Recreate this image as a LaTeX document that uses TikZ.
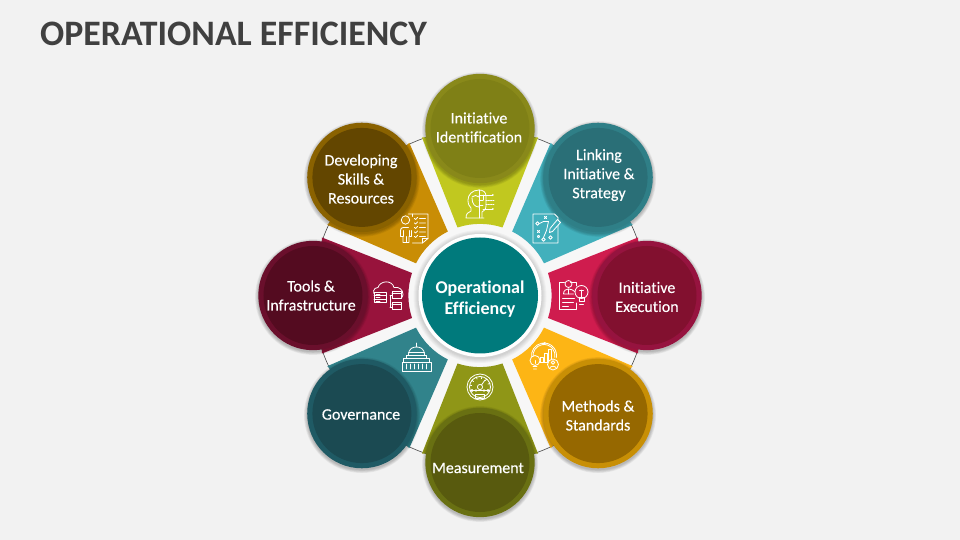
\documentclass[tikz,border=0pt]{standalone}
\usepackage{fontspec}
\setmainfont[Ligatures=NoCommon]{Carlito}
\usetikzlibrary{arrows.meta}
\definecolor{bg}{HTML}{F2F2F2}
\definecolor{pA}{HTML}{C1C81F}\definecolor{oA}{HTML}{89891A}\definecolor{iA}{HTML}{7F8016}
\definecolor{pB}{HTML}{42B0BC}\definecolor{oB}{HTML}{2F7F87}\definecolor{iB}{HTML}{2A6F77}
\definecolor{pC}{HTML}{CF1C4E}\definecolor{oC}{HTML}{96133F}\definecolor{iC}{HTML}{82102F}
\definecolor{pD}{HTML}{FDB515}\definecolor{oD}{HTML}{C88F05}\definecolor{iD}{HTML}{966800}
\definecolor{pE}{HTML}{8F9617}\definecolor{oE}{HTML}{697012}\definecolor{iE}{HTML}{585A0E}
\definecolor{pF}{HTML}{31838B}\definecolor{oF}{HTML}{1F5A64}\definecolor{iF}{HTML}{1B4A52}
\definecolor{pG}{HTML}{98133C}\definecolor{oG}{HTML}{6A0F2C}\definecolor{iG}{HTML}{540B20}
\definecolor{pH}{HTML}{C98D05}\definecolor{oH}{HTML}{8A6200}\definecolor{iH}{HTML}{634600}
\newfontfamily\labfont[Ligatures=NoCommon,FakeBold=0.25]{Carlito}
\tikzset{
  x=1pt,y=1pt,
  outerdisc/.style={circle,minimum size=109.4pt,inner sep=0pt},
  innerdisc/.style={circle,minimum size=99pt,inner sep=0pt},
  label/.style={text=white,align=center,font=\labfont\fontsize{16}{19}\selectfont,inner sep=0pt},
  ic/.style={draw=white,line width=0.8pt,line join=round,line cap=round},
  arr/.style={-{Stealth[length=2pt,width=2pt]}},
}
\newcommand{\iconat}[3]{\begin{scope}[shift={(#1-480,295.5-#2)},ic]#3\end{scope}}
\newcommand{\lab}[4]{\node[label] (#1) at (#2-480,295.5-#3) {#4};}
\begin{document}
\begin{tikzpicture}
\fill[bg] (-480,-244.5) rectangle (480,295.5);
\useasboundingbox (-480,-244.5) rectangle (480,295.5);
\node[anchor=base west,inner sep=0pt,text={rgb,255:red,64;green,64;blue,64},font=\fontsize{35.8}{40}\selectfont\bfseries] (title) at (-440,249.5) {OPERATIONAL EFFICIENCY};
% ring
\node[circle,draw={rgb,255:red,70;green,70;blue,70},fill=white!35!bg,line width=0.6pt,minimum size=334pt,inner sep=0pt] (ring) at (0,0) {};
% petals
\foreach \a/\c in {90/pA,45/pB,0/pC,-45/pD,-90/pE,-135/pF,180/pG,135/pH}{
  \begin{scope}[rotate=\a-90]
    \fill[\c] (-22.5,68) -- (-58,158) -- (58,158) -- (22.5,68) arc[start angle=71.7,end angle=108.3,radius=71.6] -- cycle;
  \end{scope}
}
% central halo shadow
\foreach \s in {1,...,5}{ \fill[black,opacity=0.03] (0,-1) circle[radius=61.5+\s]; }
% discs
\foreach \n/\a/\o/\i in {a/90/oA/iA,b/45/oB/iB,c/0/oC/iC,d/-45/oD/iD,e/-90/oE/iE,f/-135/oF/iF,g/180/oG/iG,h/135/oH/iH}{
  \foreach \s in {1,...,5}{ \fill[black,opacity=0.05] (\a:167)++(0,-1.5) circle[radius=54.4+0.7*\s]; }
  \node[outerdisc,fill=\o] (o\n) at (\a:167) {};
  \node[innerdisc,fill=\i] (i\n) at (\a:167) {};
}
\node[circle,fill=white,minimum size=123pt,inner sep=0pt] (cw) at (0,0) {};
\node[circle,fill={rgb,255:red,0;green,122;blue,124},minimum size=116pt,inner sep=0pt] (cc) at (0,0) {};
% labels
\lab{t1}{479}{127.5}{Initiative\\Identification}
\lab{t2}{599}{175}{Linking\\Initiative \&\\Strategy}
\lab{t3}{647}{297}{Initiative\\Execution}
\lab{t4}{598}{415.5}{Methods \&\\Standards}
\lab{t5}{478}{468}{Measurement}
\lab{t6}{361}{414.5}{Governance}
\lab{t7}{311}{295.5}{Tools \&\\Infrastructure}
\lab{t8}{361}{179}{Developing\\Skills \&\\Resources}
\node[label,font=\fontsize{18}{21}\selectfont\bfseries] (tc) at (0,-3.5) {Operational\\Efficiency};
% icon 1: head and brain
\iconat{480}{204}{
  \draw (-1,14) .. controls (-8,14) and (-12,9) .. (-12,4) .. controls (-12,0) and (-11,-2) .. (-9,-4) -- (-9,-7) .. controls (-12,-8) and (-14,-10) .. (-14,-14) -- (4,-14);
  \draw (-1,14) -- (-1,-14);
  \draw (-1,14) .. controls (3,14) and (6,12) .. (6,8) -- (6,-2) .. controls (6,-6) and (3,-7) .. (2,-8) -- (2,-14);
  \draw (-8,7) .. controls (-6,9) and (-3,9) .. (-1,7);
  \draw (-8,6) .. controls (-8,0) and (-5,-3) .. (-1,-3);
  \draw (-1,9) -- (3,9) (-1,4) -- (3,4) (-1,-1) -- (3,-1) (3,9) -- (3,4);
  \draw[arr] (3,9) -- (14,9); \draw[arr] (3,-5) -- (14,-5);
  \draw[densely dotted] (6,4) -- (14,4) (6,0) -- (14,0);
}
% icon 2: plan sheet
\iconat{545.5}{228.5}{
  \draw (-12.5,14.5) -- (9,14.5) -- (12.5,11) -- (12.5,-14.5) -- (-12.5,-14.5) -- cycle;
  \draw (-8,5) circle[radius=1.8] (-2,-11) circle[radius=1.8] (5,-9) circle[radius=1.8] (-7,-8) circle[radius=1.2];
  \draw (-6,5) -- (-2,7) -- (3,7) -- (1,-2) -- (-2,-9);
  \draw (-1,12) -- (1,10) (1,12) -- (-1,10) (-8,-2) -- (-6,-4) (-6,-2) -- (-8,-4) (6,1) -- (8,-1) (8,1) -- (6,-1);
  \draw[fill=pB] (12,9) -- (15,6) -- (7,-3) -- (4,-4) -- (4.5,0) -- cycle;
}
% icon 3: report and bulb
\iconat{573.5}{295}{
  \draw (-9,13) -- (-14.5,13) -- (-14.5,-14) -- (3,-14) (3,-14) -- (3,-8);
  \draw (-5,11) circle[radius=3.5];
  \draw (-10,1) .. controls (-10,5) and (-7,6) .. (-5,6) .. controls (-3,6) and (0,5) .. (2,3) (-10,1) -- (0,1);
  \draw (-5,6) -- (-5,1) (-3,13) -- (3,13) -- (3,9);
  \draw (-11,-3) -- (1,-3) (-11,-7) -- (0,-7) (-11,-11) -- (-5,-11);
  \draw[fill=pC] (8,3) circle[radius=6.5];
  \draw (8,5) -- (8,-3) (6,5) -- (10,5) (5.5,-6) -- (10.5,-6) -- (10.5,-2.5) -- (5.5,-2.5) -- cycle (6,-9) -- (10,-9);
}
% icon 4: cycle, bars, bulb, person
\iconat{544}{356.5}{
  \draw (0,1) ++(190:12.5) arc[start angle=190,end angle=-10,radius=12.5];
  \draw (0,1) ++(190:11) arc[start angle=190,end angle=-10,radius=11];
  \draw[arr] (-2,13.5) -- (2,13.5);
  \draw (-5,-6) -- (7,-6);
  \draw (-4,-6) rectangle (-1,-1) (0,-6) rectangle (3,3) (4,-6) rectangle (7,7);
  \draw[fill=pD] (-9,-4) circle[radius=5] (-11,-10) -- (-7,-10) (-10.5,-12.5) -- (-7.5,-12.5);
  \draw (-9,-7) -- (-9,-4);
  \draw[fill=pD] (9,-8) circle[radius=5.5];
  \draw (9,-6) circle[radius=1.8] (5.5,-12) .. controls (6,-9) and (12,-9) .. (12.5,-12);
}
% icon 5: gauge
\iconat{480}{387}{
  \draw (0,0) circle[radius=13] (0,0) circle[radius=10.5];
  \draw (0,0) circle[radius=2.6];
  \draw (1.5,2) -- (5,7);
  \foreach \t in {20,50,...,170}{ \draw (\t:8.5) -- (\t:10.5); }
  \draw (-10,-3.5) -- (10,-3.5) (-8,-3.5) circle[radius=1] (8,-3.5) circle[radius=1] (-4,-3.5) circle[radius=0.8] (4,-3.5) circle[radius=0.8];
  \draw (-4.5,-11) rectangle (4.5,-7);
}
% icon 6: capitol
\iconat{416.5}{357}{
  \draw (-14.5,-14) rectangle (14.5,-5);
  \draw (-13,-5) -- (-13,-1) -- (13,-1) -- (13,-5) (-10,-1) -- (-10,2) -- (10,2) -- (10,-1);
  \draw (-8,2) .. controls (-8,9) and (-3,10) .. (0,10) .. controls (3,10) and (8,9) .. (8,2);
  \draw (-8,5) -- (8,5) (0,10) -- (0,14);
  \foreach \p in {-10,-6,-2,2,6,10}{ \draw (\p,-12) -- (\p,-7); }
}
% icon 7: cloud and servers
\iconat{388}{295.5}{
  \draw (-12,0) .. controls (-16,2) and (-15,8) .. (-10,8) .. controls (-8,15) and (4,16) .. (6,8) .. controls (11,9) and (15,6) .. (15,1) .. controls (15,0) and (14,-2) .. (13,-3);
  \draw[fill=pG] (-14,-7) rectangle (-2,3);
  \draw (-14,0) -- (-2,0) (-14,-3.5) -- (-2,-3.5) (-12,1.5) -- (-8,1.5) (-12,-2) -- (-8,-2) (-12,-5.5) -- (-8,-5.5);
  \draw (2,-12) -- (2,0) (2,-12) -- (4,-12) (2,0) -- (4,0);
  \draw[fill=pG] (4,-3) rectangle (13,4);
  \draw[fill=pG] (4,-14) rectangle (13,-7);
  \draw (4,2) -- (13,2) (4,-9) -- (13,-9);
}
% icon 8: person with list
\iconat{414.5}{228.5}{
  \draw (-9,8.5) circle[radius=4.2];
  \draw (-6,1) -- (-11,1) .. controls (-13,1) and (-14,0) .. (-14,-2) -- (-14,-8) -- (-11.5,-8) -- (-11.5,-14) -- (-5.5,-14) -- (-5.5,-8) -- (-3,-8) -- (-3,-2);
  \draw (-8.5,-8) -- (-8.5,-14) (-11.5,-2) -- (-11.5,-8) (-5.5,-2) -- (-5.5,-8);
  \draw (-6,14.5) -- (13.5,14.5) -- (13.5,-10) -- (8,-14.5) -- (-2,-14.5);
  \draw (8,-14.5) -- (8,-10) -- (13.5,-10) (-2,14.5) -- (-2,12);
  \foreach \q in {10,5.5,1,-3.5,-8}{ \draw (0,\q) -- (1.2,\q-1) -- (3,\q+1) (5,\q) -- (11,\q); }
}
\end{tikzpicture}
\end{document}
